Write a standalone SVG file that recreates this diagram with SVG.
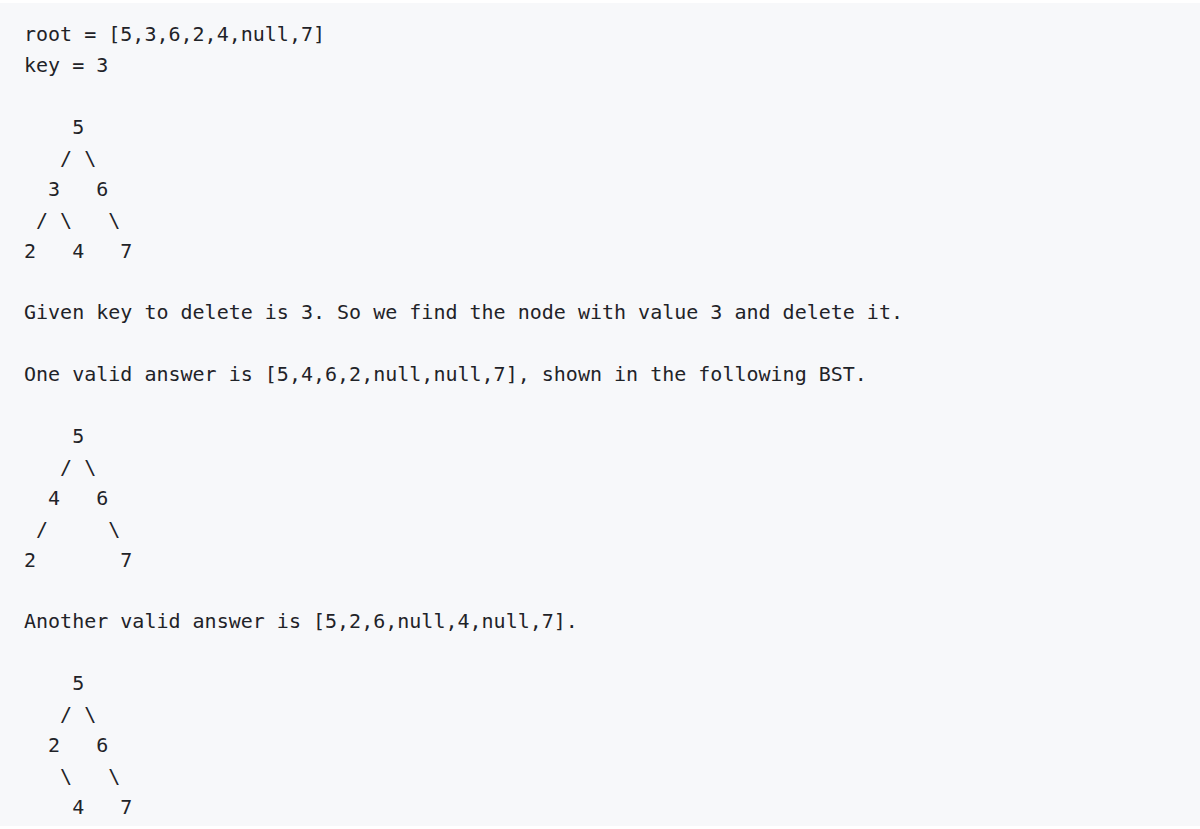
<svg xmlns="http://www.w3.org/2000/svg" width="1200" height="829" viewBox="0 0 1200 829">
<style>
  .t { font-family: "DejaVu Sans Mono", "Liberation Mono", monospace; font-size: 20px; fill: #1f2328; white-space: pre; }
</style>
<rect x="0" y="3" width="1200" height="823" fill="#f7f8fa"/>
<g id="input" xml:space="preserve">
  <text class="t" x="24" y="41">root = [5,3,6,2,4,null,7]</text>
  <text class="t" x="24" y="72">key = 3</text>
</g>
<g id="tree1" xml:space="preserve">
  <text class="t" x="24" y="134">    5</text>
  <text class="t" x="24" y="165">   / \</text>
  <text class="t" x="24" y="196">  3   6</text>
  <text class="t" x="24" y="227"> / \   \</text>
  <text class="t" x="24" y="258">2   4   7</text>
</g>
<g id="explain" xml:space="preserve">
  <text class="t" x="24" y="319">Given key to delete is 3. So we find the node with value 3 and delete it.</text>
  <text class="t" x="24" y="381">One valid answer is [5,4,6,2,null,null,7], shown in the following BST.</text>
</g>
<g id="tree2" xml:space="preserve">
  <text class="t" x="24" y="443">    5</text>
  <text class="t" x="24" y="474">   / \</text>
  <text class="t" x="24" y="505">  4   6</text>
  <text class="t" x="24" y="536"> /     \</text>
  <text class="t" x="24" y="567">2       7</text>
</g>
<g id="another" xml:space="preserve">
  <text class="t" x="24" y="628">Another valid answer is [5,2,6,null,4,null,7].</text>
</g>
<g id="tree3" xml:space="preserve">
  <text class="t" x="24" y="690">    5</text>
  <text class="t" x="24" y="721">   / \</text>
  <text class="t" x="24" y="752">  2   6</text>
  <text class="t" x="24" y="783">   \   \</text>
  <text class="t" x="24" y="814">    4   7</text>
</g>
</svg>
